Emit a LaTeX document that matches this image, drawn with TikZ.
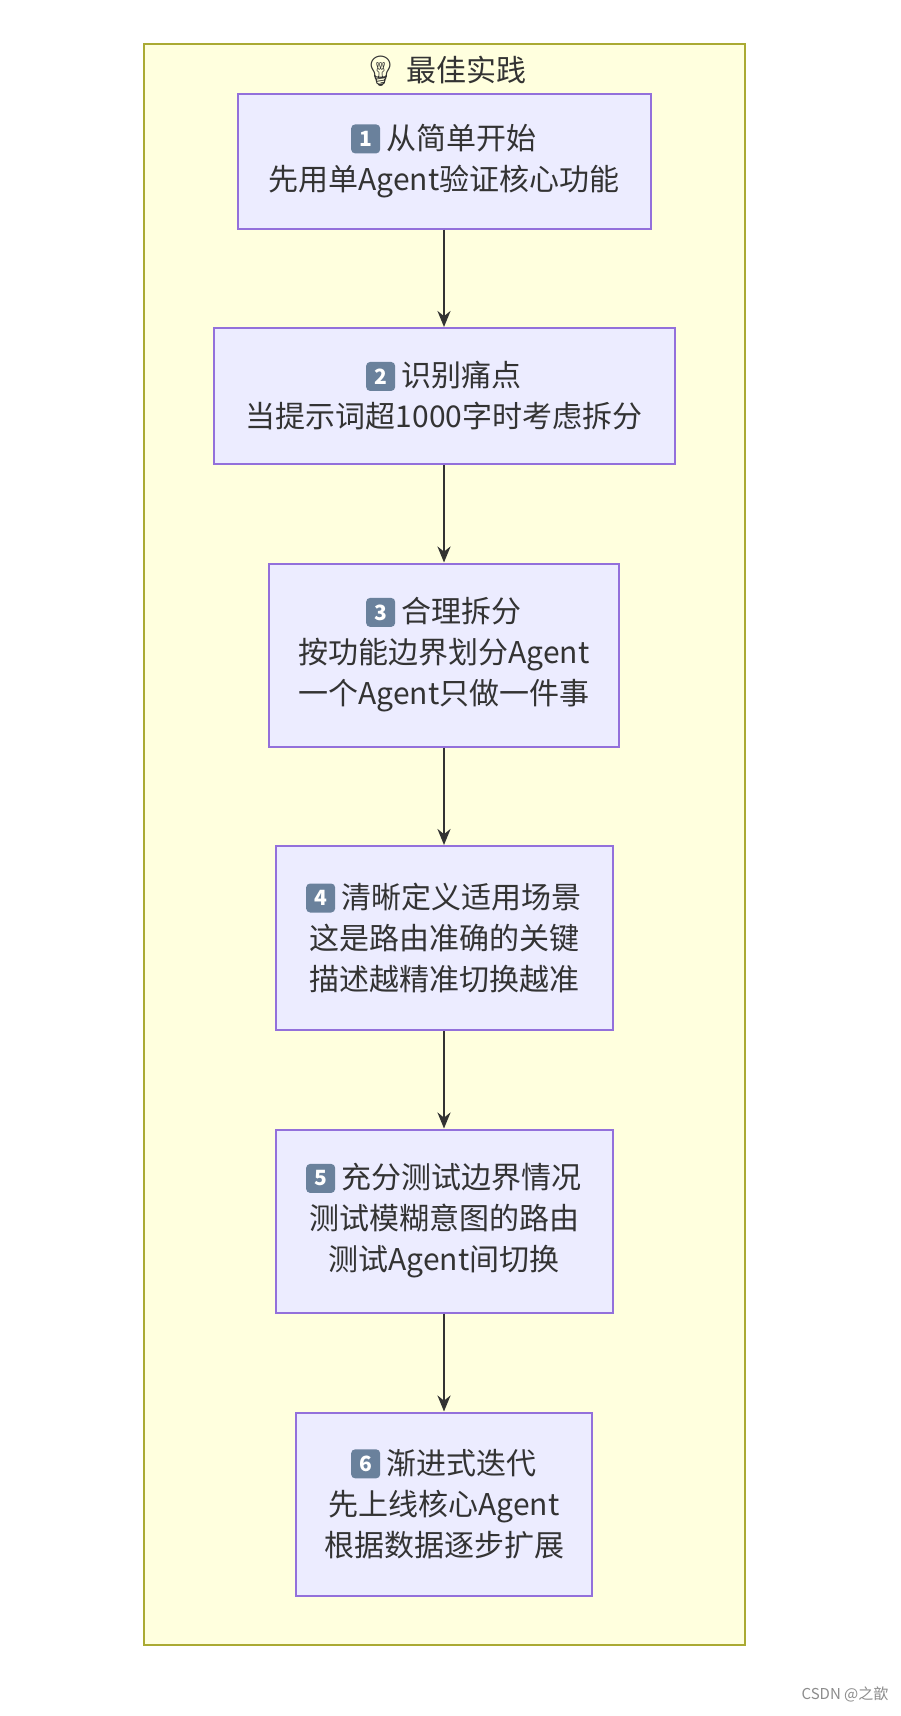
\documentclass[tikz,border=0pt]{standalone}
\usepackage{fontspec}
\setmainfont{Noto Sans CJK SC}
\newfontfamily\emo{Noto Emoji}
\usetikzlibrary{arrows.meta}
\definecolor{clbg}{HTML}{FFFFDE}
\definecolor{clbd}{HTML}{AAAA33}
\definecolor{ndbg}{HTML}{ECECFF}
\definecolor{ndbd}{HTML}{9370DB}
\definecolor{keyc}{HTML}{6A819C}
\newcommand{\kcap}[1]{\tikz[baseline=-0.35em]\node[fill=keyc,rounded corners=4pt,minimum size=29pt,inner sep=0pt,text=white,font=\fontsize{21}{21}\selectfont\bfseries]{#1};}
\tikzset{
 stepbox/.style={draw=ndbd,fill=ndbg,line width=2pt,align=center,inner sep=0pt,
   font=\fontsize{30}{41}\selectfont,text=black!80},
 arr/.style={draw=black!80,line width=2.5pt,-{Stealth[length=16pt,width=13pt]}}
}
\begin{document}
\begin{tikzpicture}[x=1pt,y=-1pt]
\useasboundingbox (0,0) rectangle (900,1716);
\fill[white] (0,0) rectangle (900,1716);
\draw[clbd,fill=clbg,line width=2pt] (144,44) rectangle (745,1645);
\node[font=\fontsize{30}{34}\selectfont,text=black!80] (title) at (444,71) {{\emo\fontsize{30}{30}\selectfont 💡} 最佳实践};
\node[stepbox,minimum width=413,minimum height=135] (n1) at (444,161) {\kcap{1} 从简单开始\\先用单Agent验证核心功能};
\node[stepbox,minimum width=461,minimum height=136] (n2) at (444,396) {\kcap{2} 识别痛点\\当提示词超1000字时考虑拆分};
\node[stepbox,minimum width=350,minimum height=183] (n3) at (444,655) {\kcap{3} 合理拆分\\按功能边界划分Agent\\一个Agent只做一件事};
\node[stepbox,minimum width=337,minimum height=184] (n4) at (444,938) {\kcap{4} 清晰定义适用场景\\这是路由准确的关键\\描述越精准切换越准};
\node[stepbox,minimum width=337,minimum height=183] (n5) at (444,1221) {\kcap{5} 充分测试边界情况\\测试模糊意图的路由\\测试Agent间切换};
\node[stepbox,minimum width=296,minimum height=183] (n6) at (444,1504) {\kcap{6} 渐进式迭代\\先上线核心Agent\\根据数据逐步扩展};
\draw[arr] (n1) -- (n2);
\draw[arr] (n2) -- (n3);
\draw[arr] (n3) -- (n4);
\draw[arr] (n4) -- (n5);
\draw[arr] (n5) -- (n6);
\node[font=\fontsize{15}{15}\selectfont,text=black!45] (wm) at (845,1694) {CSDN @之歆};
\end{tikzpicture}
\end{document}
